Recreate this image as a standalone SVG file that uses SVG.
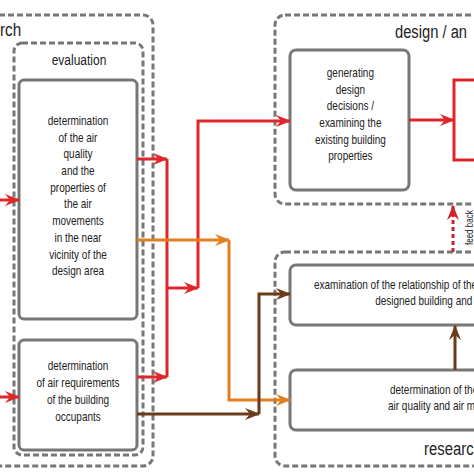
<svg xmlns="http://www.w3.org/2000/svg" width="474" height="474" viewBox="0 0 474 474">
<defs>
<style>
.area{fill:none;stroke:#777;stroke-width:3;stroke-dasharray:6 3}
.box{fill:#fff;stroke:#777;stroke-width:3}
.t{font-family:"Liberation Sans",Arial,sans-serif;font-size:12.5px;fill:#222;text-anchor:middle}
.ts{font-family:"Liberation Sans",Arial,sans-serif;font-size:12.5px;fill:#222}
.big{font-family:"Liberation Sans",Arial,sans-serif;font-size:19px;fill:#222}
.c{fill:none;stroke-width:3}
.red{stroke:#e0262b}
.ora{stroke:#e57c1e}
.brn{stroke:#6b3a1a}
</style>
<marker id="mr" viewBox="0 0 15 12" markerWidth="15" markerHeight="12" markerUnits="userSpaceOnUse" refX="14" refY="6" orient="auto"><path d="M0,0 L15,6 L0,12 L5,6 z" fill="#e0262b"/></marker>
<marker id="mo" viewBox="0 0 15 12" markerWidth="15" markerHeight="12" markerUnits="userSpaceOnUse" refX="14" refY="6" orient="auto"><path d="M0,0 L15,6 L0,12 L5,6 z" fill="#e57c1e"/></marker>
<marker id="mb" viewBox="0 0 15 12" markerWidth="15" markerHeight="12" markerUnits="userSpaceOnUse" refX="14" refY="6" orient="auto"><path d="M0,0 L15,6 L0,12 L5,6 z" fill="#6b3a1a"/></marker>
<marker id="md" viewBox="0 0 15 12" markerWidth="15" markerHeight="12" markerUnits="userSpaceOnUse" refX="14" refY="6" orient="auto"><path d="M0,0 L15,6 L0,12 L5,6 z" fill="#d0202a"/></marker>
</defs>
<rect width="474" height="474" fill="#fff"/>

<g id="research-left">
<rect class="area" x="-20" y="15" width="173" height="451" rx="10"/>
<text class="big" transform="translate(0 36) scale(0.8 1)">rch</text>
</g>
<g id="evaluation">
<rect class="area" x="14" y="43" width="129" height="412" rx="8"/>
<text class="big" style="font-size:15px;text-anchor:middle" transform="translate(79 65) scale(0.8 1)">evaluation</text>
</g>
<g id="air-quality">
<rect class="box" x="19" y="80" width="118" height="239" rx="5"/>
<g transform="scale(0.8 1)">
<text class="t" x="97.5" y="125">determination</text>
<text class="t" x="97.5" y="141.7">of the air</text>
<text class="t" x="97.5" y="158.4">quality</text>
<text class="t" x="97.5" y="175.1">and the</text>
<text class="t" x="97.5" y="191.8">properties of</text>
<text class="t" x="97.5" y="208.5">the air</text>
<text class="t" x="97.5" y="225.2">movements</text>
<text class="t" x="97.5" y="241.9">in the near</text>
<text class="t" x="97.5" y="258.6">vicinity of the</text>
<text class="t" x="97.5" y="275.3">design area</text>
</g>
</g>
<g id="air-requirements">
<rect class="box" x="19" y="340" width="118" height="110" rx="5"/>
<g transform="scale(0.8 1)">
<text class="t" x="97.5" y="370">determination</text>
<text class="t" x="97.5" y="387">of air requirements</text>
<text class="t" x="97.5" y="404">of the building</text>
<text class="t" x="97.5" y="421">occupants</text>
</g>
</g>

<g id="design-area">
<rect class="area" x="275" y="15" width="220" height="189" rx="10"/>
<text class="big" transform="translate(395 38) scale(0.8 1)" textLength="90" lengthAdjust="spacingAndGlyphs">design / an</text>
</g>
<g id="generating">
<rect class="box" x="290" y="50" width="119" height="140" rx="6"/>
<g transform="scale(0.8 1)">
<text class="t" x="438" y="77">generating</text>
<text class="t" x="438" y="93.7">design</text>
<text class="t" x="438" y="110.4">decisions /</text>
<text class="t" x="438" y="127.1">examining the</text>
<text class="t" x="438" y="143.8">existing building</text>
<text class="t" x="438" y="160.5">properties</text>
</g>
</g>
<g id="red-box">
<rect x="454" y="80" width="40" height="80" fill="#fff" stroke="#e0262b" stroke-width="3"/>
</g>

<g id="research-area">
<rect class="area" x="275" y="252" width="220" height="214" rx="10"/>
<text class="big" transform="translate(424 455) scale(0.8 1)" textLength="62" lengthAdjust="spacingAndGlyphs">researc</text>
</g>
<g id="examination">
<rect class="box" x="290" y="265" width="200" height="60" rx="6"/>
<g transform="scale(0.8 1)">
<text class="ts" x="392.5" y="289">examination of the relationship of the</text>
<text class="ts" x="469" y="305">designed building and</text>
</g>
</g>
<g id="determination-research">
<rect class="box" x="290" y="370" width="200" height="60" rx="6"/>
<g transform="scale(0.8 1)">
<text class="ts" x="487.5" y="394">determination of the</text>
<text class="ts" x="485" y="410">air quality and air m</text>
</g>
</g>

<g id="connectors">
<path class="c red" d="M0,200 H19" marker-end="url(#mr)"/>
<path class="c red" d="M0,397 H19" marker-end="url(#mr)"/>
<path class="c red" d="M167,159 V377"/>
<path class="c red" d="M137,159 H167" marker-end="url(#mr)"/>
<path class="c red" d="M137,377 H167" marker-end="url(#mr)"/>
<path class="c red" d="M167,288 H198" marker-end="url(#mr)"/>
<path class="c red" d="M198,288 V121 H290" marker-end="url(#mr)"/>
<path class="c red" d="M409,120 H454" marker-end="url(#mr)"/>
<path class="c ora" d="M137,240 H229" marker-end="url(#mo)"/>
<path class="c ora" d="M229,240 V400 H290" marker-end="url(#mo)"/>
<path class="c brn" d="M137,414 H259" marker-end="url(#mb)"/>
<path class="c brn" d="M259,414 V294 H290" marker-end="url(#mb)"/>
<path class="c brn" d="M455,370 V326" marker-end="url(#mb)"/>
<path class="c" stroke="#d0202a" stroke-dasharray="4 3" d="M453,252 V206" marker-end="url(#md)"/>
<text class="ts" style="font-size:10px" transform="translate(473 245) rotate(-90) scale(0.8 1)">feed back</text>
</g>
</svg>
